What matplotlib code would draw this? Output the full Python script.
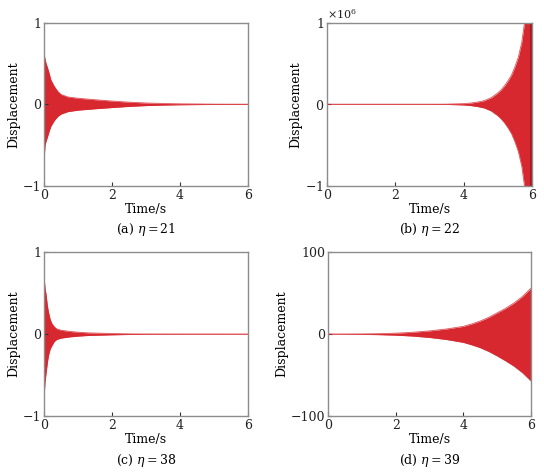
import numpy as np
import matplotlib
matplotlib.use("Agg")
import matplotlib.pyplot as plt
from matplotlib.ticker import ScalarFormatter

plt.rcParams["font.family"] = "DejaVu Serif"
plt.rcParams["mathtext.fontset"] = "dejavuserif"
plt.rcParams["font.size"] = 9

# Envelope of the displacement response
t_a = [0, 0.01, 0.03, 0.06, 0.1, 0.15, 0.2, 0.3, 0.4, 0.5, 0.7, 1.0, 1.5, 2.0, 2.5, 3.0, 3.5, 4.0, 5.0, 6.0]
up_a = [0.68, 0.6, 0.55, 0.5, 0.45, 0.38, 0.3, 0.22, 0.16, 0.12, 0.09, 0.074, 0.056, 0.04, 0.026, 0.016, 0.01, 0.006, 0.002, 0.001]
lo_a = [-0.75, -0.62, -0.5, -0.45, -0.4, -0.33, -0.27, -0.2, -0.15, -0.12, -0.09, -0.072, -0.055, -0.04, -0.026, -0.016, -0.01, -0.006, -0.002, -0.001]

t_b = [0, 3.0, 3.5, 4.0, 4.2, 4.4, 4.6, 4.8, 5.0, 5.1, 5.2, 5.3, 5.4, 5.5, 5.6, 5.7, 5.78, 5.9, 5.93, 6.0]
up_b = [0, 0.0005, 0.002, 0.008, 0.015, 0.027, 0.045, 0.08, 0.14, 0.18, 0.23, 0.29, 0.36, 0.46, 0.58, 0.76, 1.0, 1.4, 1.5, 1.8]  # x1e6
lo_b = [-v for v in up_b]

t_c = [0, 0.01, 0.03, 0.06, 0.1, 0.13, 0.18, 0.23, 0.3, 0.37, 0.5, 0.76, 1.0, 1.3, 2.0, 2.5, 3.0, 4.0, 6.0]
up_c = [0.74, 0.65, 0.56, 0.48, 0.34, 0.27, 0.18, 0.13, 0.09, 0.065, 0.048, 0.033, 0.024, 0.016, 0.008, 0.004, 0.002, 0.001, 0.0005]
lo_c = [-0.84, -0.7, -0.58, -0.47, -0.34, -0.26, -0.18, -0.14, -0.09, -0.065, -0.048, -0.033, -0.024, -0.016, -0.008, -0.004, -0.002, -0.001, -0.0005]

t_d = [0, 0.5, 1.0, 1.5, 2.0, 2.5, 3.0, 3.5, 4.0, 4.25, 4.5, 4.75, 5.0, 5.25, 5.5, 5.75, 6.0]
up_d = [0, 0.1, 0.3, 0.6, 1.2, 2.3, 4.0, 6.3, 9.5, 12.5, 16, 20.5, 26, 31.5, 38, 46, 56]
lo_d = [0, -0.1, -0.3, -0.6, -1.2, -2.3, -4.0, -6.5, -10, -13, -16.5, -21, -26.5, -32.5, -39, -47, -57]

captions = ["(a) $\\eta$$=$21", "(b) $\\eta$$=$22", "(c) $\\eta$$=$38", "(d) $\\eta$$=$39"]
b_scale = 1e6

red = "#d7282f"
spine_grey = "#8c8c8c"

fig = plt.figure(figsize=(5.44, 4.73), dpi=100)
rects = [
    [0.081, 0.607, 0.375, 0.345],
    [0.601, 0.607, 0.377, 0.345],
    [0.081, 0.120, 0.375, 0.347],
    [0.603, 0.120, 0.373, 0.347],
]
panels = [
    (t_a, up_a, lo_a, 1, 1),
    (t_b, up_b, lo_b, b_scale, b_scale),
    (t_c, up_c, lo_c, 1, 1),
    (t_d, up_d, lo_d, 1, 100),
]

for i, (rect, (t, up, lo, scale, ylim)) in enumerate(zip(rects, panels)):
    ax = fig.add_axes(rect)
    t = np.array(t)
    up = np.array(up) * scale
    lo = np.array(lo) * scale
    ax.fill_between(t, lo, up, color=red, linewidth=0)
    ax.plot(t, up, color=red, lw=0.6, alpha=0.8)
    ax.plot(t, lo, color=red, lw=0.6, alpha=0.8)
    if i == 1:
        # clipped part, drawn darker
        ax.fill_between(t, -ylim, ylim, where=t >= 5.93, color="#9c1c20",
                        linewidth=0)
    ax.set_xlim(0, 6)
    ax.set_ylim(-ylim, ylim)
    ax.set_xticks([0, 2, 4, 6])
    ax.set_yticks([-ylim, 0, ylim])
    ax.tick_params(direction="in", length=3, width=0.8, color="#333333",
                   labelcolor="#222222", pad=2)
    for s in ax.spines.values():
        s.set_color(spine_grey)
        s.set_linewidth(1.0)
    ax.set_xlabel("Time/s", labelpad=1)
    ax.set_ylabel("Displacement", labelpad=2)
    if i == 1:
        fmt = ScalarFormatter(useMathText=True)
        fmt.set_powerlimits((0, 0))
        ax.yaxis.set_major_formatter(fmt)
        ax.yaxis.get_offset_text().set_fontsize(8)
    ax.text(0.5, -0.27, captions[i], transform=ax.transAxes,
            ha="center", va="center", fontsize=9)

fig.savefig("out.png", dpi=100)
